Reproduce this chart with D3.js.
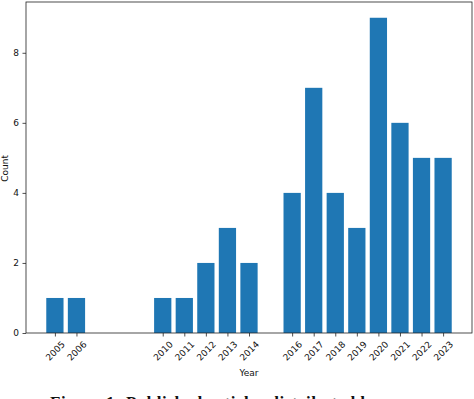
<!DOCTYPE html>
<html>
<head>
<meta charset="utf-8">
<script src="https://cdn.jsdelivr.net/npm/d3@7"></script>
<style>
  body { margin: 0; background: #fff; }
  svg { display: block; }
</style>
</head>
<body>
<div id="chart-area"></div>
<script>
// publications per year
var years = [2005, 2006, 2010, 2011, 2012, 2013, 2014, 2016, 2017, 2018, 2019, 2020, 2021, 2022, 2023];
var counts = [1, 1, 1, 1, 2, 3, 2, 4, 7, 4, 3, 9, 6, 5, 5];
var yTicks = [0, 2, 4, 6, 8];
var caption = "Figure 1: Published articles distributed by year";

var W = 474, H = 399;
var margin = {left: 26, right: 2, top: 2, bottom: 66};

var svg = d3.select("#chart-area").append("svg")
    .attr("width", W)
    .attr("height", H);

var data = years.map((y, i) => ({year: y, count: counts[i]}));

// matplotlib style limits: bars 0.8 wide, 5% margins
var xmin = d3.min(years) - 0.4, xmax = d3.max(years) + 0.4;
var xpad = (xmax - xmin) * 0.05;
var x = d3.scaleLinear()
    .domain([xmin - xpad, xmax + xpad])
    .range([margin.left, W - margin.right]);

var y = d3.scaleLinear()
    .domain([0, d3.max(counts) * 1.05])
    .range([H - margin.bottom, margin.top]);

svg.selectAll("rect.bar")
    .data(data)
    .enter()
    .append("rect")
        .attr("class", "bar")
        .attr("x", (d) => x(d.year - 0.4))
        .attr("y", (d) => y(d.count))
        .attr("width", (d) => x(d.year + 0.4) - x(d.year - 0.4))
        .attr("height", (d) => y(0) - y(d.count))
        .attr("fill", "#1f77b4");

// axes
var xAxis = d3.axisBottom(x).tickValues(years).tickFormat(d3.format("d")).tickSize(3.5).tickPadding(3);
var yAxis = d3.axisLeft(y).tickValues(yTicks).tickSize(3.5).tickPadding(3.5);

var gx = svg.append("g")
    .attr("transform", "translate(0," + (H - margin.bottom) + ")")
    .call(xAxis);
gx.select(".domain").remove();
gx.selectAll(".tick line").attr("stroke", "#222").attr("stroke-width", 0.8);
gx.selectAll(".tick text")
    .attr("font-family", "DejaVu Sans, sans-serif")
    .attr("font-size", 9)
    .attr("fill", "#111")
    .attr("text-anchor", "middle")
    .attr("dominant-baseline", "central")
    .attr("y", 0)
    .attr("dy", 0)
    .attr("transform", "translate(0,18) rotate(-45)");

var gy = svg.append("g")
    .attr("transform", "translate(" + margin.left + ",0)")
    .call(yAxis);
gy.select(".domain").remove();
gy.selectAll(".tick line").attr("stroke", "#222").attr("stroke-width", 0.8);
gy.selectAll(".tick text")
    .attr("font-family", "DejaVu Sans, sans-serif")
    .attr("font-size", 9)
    .attr("fill", "#111");

// frame
svg.append("rect")
    .attr("x", margin.left)
    .attr("y", margin.top)
    .attr("width", W - margin.left - margin.right)
    .attr("height", H - margin.top - margin.bottom)
    .attr("fill", "none")
    .attr("stroke", "#222")
    .attr("stroke-width", 0.8);

// labels
svg.append("text")
    .attr("x", (margin.left + W - margin.right) / 2)
    .attr("y", 373)
    .attr("text-anchor", "middle")
    .attr("dominant-baseline", "central")
    .attr("font-family", "DejaVu Sans, sans-serif")
    .attr("font-size", 9)
    .attr("fill", "#111")
    .text("Year");

svg.append("text")
    .attr("transform", "translate(5," + y(4.7) + ") rotate(-90)")
    .attr("text-anchor", "middle")
    .attr("dominant-baseline", "central")
    .attr("font-family", "DejaVu Sans, sans-serif")
    .attr("font-size", 9)
    .attr("fill", "#111")
    .text("Count");

// caption, cut off by the bottom edge
svg.append("text")
    .attr("x", 50)
    .attr("y", 408)
    .attr("textLength", 368)
    .attr("lengthAdjust", "spacing")
    .attr("font-family", "Liberation Serif, serif")
    .attr("font-weight", "bold")
    .attr("font-size", 17)
    .attr("fill", "#111")
    .text(caption);
</script>
</body>
</html>
